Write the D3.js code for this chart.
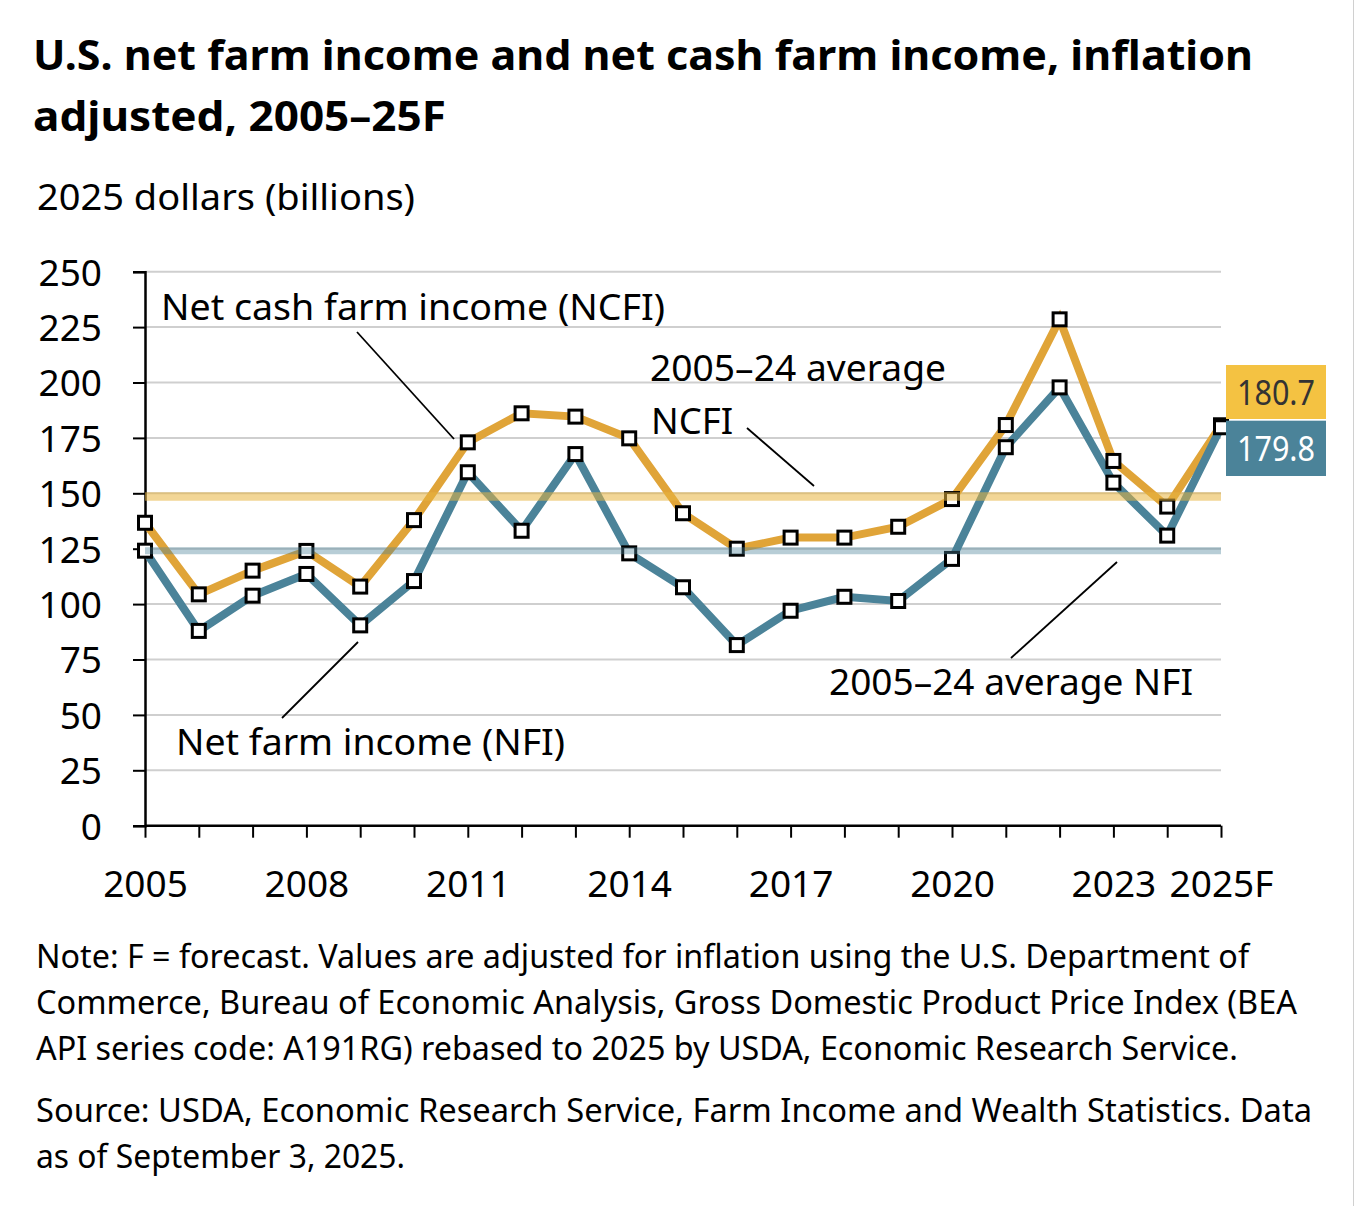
<!DOCTYPE html>
<html><head><meta charset="utf-8">
<script src="https://cdn.jsdelivr.net/npm/d3@7"></script>
<style>body{margin:0;background:#fff}svg{display:block}text{font-family:"Noto Sans",sans-serif}</style>
</head><body>
<svg id="c" width="1354" height="1206"></svg>
<script>
const years = ["2005","2006","2007","2008","2009","2010","2011","2012","2013","2014","2015","2016","2017","2018","2019","2020","2021","2022","2023","2024","2025F"];
const ncfi = [136.7,104.4,115.1,124.0,107.9,137.9,173.0,186.1,184.6,174.8,141.0,125.0,130.0,130.0,134.9,147.4,180.8,228.5,164.6,144.0,180.7];
const nfi  = [124.1,87.9,103.8,113.6,90.4,110.4,159.5,133.1,167.7,122.9,107.6,81.5,97.0,103.3,101.4,120.4,170.8,197.8,154.8,130.9,179.8];
const ncfiAvg = 148.6;
const nfiAvg = 124.1;
const yTicks = [0,25,50,75,100,125,150,175,200,225,250];
const xLabels = ["2005","2008","2011","2014","2017","2020","2023","2025F"];
const lastLabels = ["180.7","179.8"];

const ORANGE = "#e0a438", BLUE = "#4b8399";
const svg = d3.select("#c");
const x = d3.scalePoint().domain(years).range([145,1221]);
const y = d3.scaleLinear().domain([0,250]).range([825.7,271.7]);

function txt(g, px, py, s, size, opts={}) {
  const t = g.append("text").attr("x",px).attr("y",py).text(s)
    .attr("font-size",size).attr("fill",opts.fill||"#000")
    .attr("font-weight",opts.weight||400)
    .attr("text-anchor",opts.anchor||"start");
  if (opts.w) t.attr("textLength",opts.w).attr("lengthAdjust","spacingAndGlyphs");
  return t;
}

// title & subtitle
txt(svg,33,70,"U.S. net farm income and net cash farm income, inflation",42,{weight:700,w:1220});
txt(svg,33,131,"adjusted, 2005–25F",42,{weight:700,w:413});
txt(svg,37,210,"2025 dollars (billions)",37,{w:378});

// gridlines
svg.append("g").selectAll("line").data(yTicks.filter(d=>d>0)).join("line")
  .attr("x1",145).attr("x2",1221).attr("y1",d=>y(d)).attr("y2",d=>y(d))
  .attr("stroke","#cfcfcf").attr("stroke-width",2);

// axes
const ya = svg.append("g").attr("transform","translate(145,0)")
  .call(d3.axisLeft(y).tickValues(yTicks).tickSize(12).tickPadding(30));
ya.select(".domain").attr("stroke","#000").attr("stroke-width",2.5);
ya.selectAll(".tick line").attr("stroke","#000").attr("stroke-width",2);
ya.selectAll(".tick text").attr("font-size",37).attr("font-family","Noto Sans").attr("fill","#000")
  .attr("dy","0.36em").attr("x",-43);

const xa = svg.append("g").attr("transform","translate(0,825.7)")
  .call(d3.axisBottom(x).tickSize(12).tickFormat(d=>xLabels.includes(d)?d:""));
xa.select(".domain").attr("stroke","#000").attr("stroke-width",2.5).attr("d","M145,0H1221");
xa.selectAll(".tick line").attr("stroke","#000").attr("stroke-width",2);
xa.selectAll(".tick text").attr("font-size",37).attr("font-family","Noto Sans").attr("fill","#000")
  .attr("y",58).attr("dy","0.36em");

// lines
const line = d3.line().x((d,i)=>x(years[i])).y(d=>y(d));
svg.append("path").datum(ncfi).attr("d",line).attr("fill","none").attr("stroke",ORANGE).attr("stroke-width",8).attr("stroke-linejoin","miter");
svg.append("path").datum(nfi).attr("d",line).attr("fill","none").attr("stroke",BLUE).attr("stroke-width",8).attr("stroke-linejoin","miter");

// markers
[ncfi,nfi].forEach(s=>{
  svg.append("g").selectAll("rect").data(s).join("rect")
    .attr("x",(d,i)=>x(years[i])-6.5).attr("y",d=>y(d)-6.5)
    .attr("width",13).attr("height",13).attr("fill","#fff").attr("stroke","#000").attr("stroke-width",3);
});

// average bands (on top, translucent)
svg.append("line").attr("x1",145).attr("x2",1221).attr("y1",y(ncfiAvg)).attr("y2",y(ncfiAvg))
  .attr("stroke","#e8b440").attr("stroke-opacity",0.55).attr("stroke-width",8.5);
svg.append("line").attr("x1",145).attr("x2",1221).attr("y1",y(nfiAvg)).attr("y2",y(nfiAvg))
  .attr("stroke",BLUE).attr("stroke-opacity",0.4).attr("stroke-width",7);

// annotations
const ann = svg.append("g");
txt(ann,161,320,"Net cash farm income (NCFI)",37,{w:504});
ann.append("line").attr("x1",357).attr("y1",332).attr("x2",454).attr("y2",439).attr("stroke","#000").attr("stroke-width",1.8);
txt(ann,650,381,"2005–24 average",37,{w:296});
txt(ann,651,434,"NCFI",37,{w:82});
ann.append("line").attr("x1",747).attr("y1",428).attr("x2",814).attr("y2",486).attr("stroke","#000").attr("stroke-width",1.8);
txt(ann,829,695,"2005–24 average NFI",37,{w:364});
ann.append("line").attr("x1",1117).attr("y1",562).attr("x2",1011).attr("y2",658).attr("stroke","#000").attr("stroke-width",1.8);
txt(ann,176,755,"Net farm income (NFI)",37,{w:389});
ann.append("line").attr("x1",358).attr("y1",642).attr("x2",282).attr("y2",718).attr("stroke","#000").attr("stroke-width",1.8);

// end value boxes
const vb = svg.append("g");
vb.append("rect").attr("x",1226).attr("y",365).attr("width",100).attr("height",54).attr("fill","#f4c242");
vb.append("rect").attr("x",1226).attr("y",420.7).attr("width",100).attr("height",55.3).attr("fill",BLUE);
txt(vb,1276,405,lastLabels[0],34,{anchor:"middle",fill:"#333",w:78});
txt(vb,1276,461,lastLabels[1],34,{anchor:"middle",fill:"#fff",w:78});

// right border
svg.append("line").attr("x1",1353.5).attr("x2",1353.5).attr("y1",0).attr("y2",1206).attr("stroke","#d0d0d0").attr("stroke-width",1);

// notes
const notes = [
  ["Note: F = forecast. Values are adjusted for inflation using the U.S. Department of",968,1213],
  ["Commerce, Bureau of Economic Analysis, Gross Domestic Product Price Index (BEA",1014,1261],
  ["API series code: A191RG) rebased to 2025 by USDA, Economic Research Service.",1060,1202],
  ["Source: USDA, Economic Research Service, Farm Income and Wealth Statistics. Data",1122,1276],
  ["as of September 3, 2025.",1168,369]
];
notes.forEach(n=>txt(svg,36,n[1],n[0],32,{w:n[2]}));
</script>
</body></html>
